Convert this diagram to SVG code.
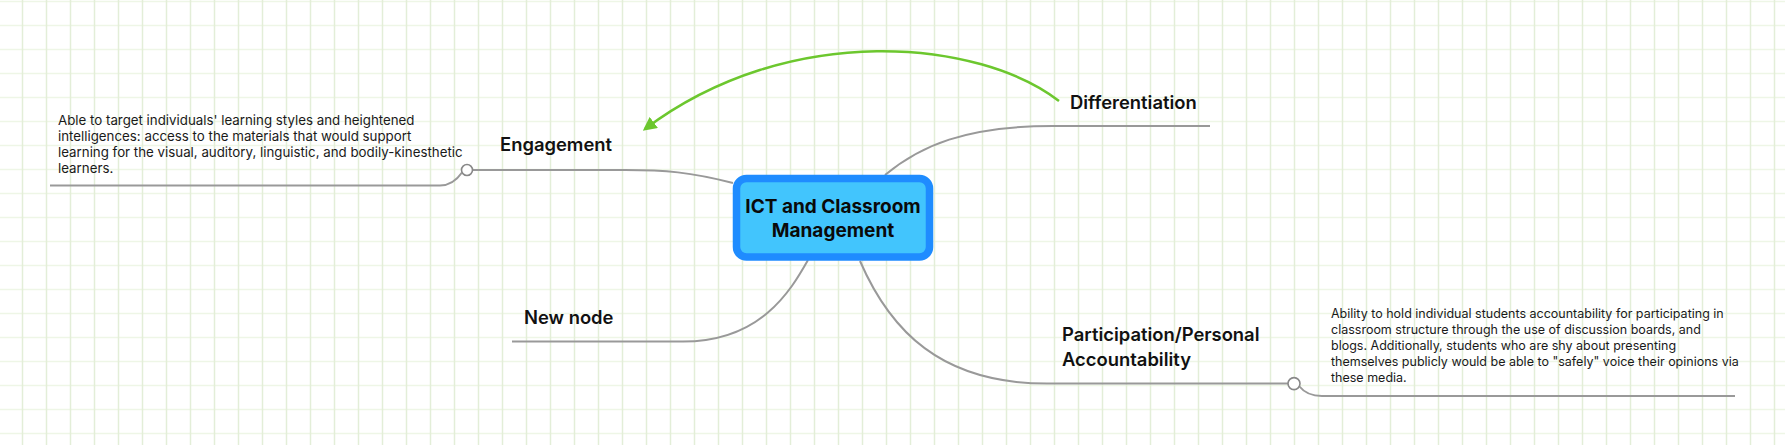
<svg xmlns="http://www.w3.org/2000/svg" width="1785" height="445" viewBox="0 0 1785 445">
<defs>
<pattern id="grid" patternUnits="userSpaceOnUse" width="24" height="24">
<line x1="0" y1="1.5" x2="24" y2="1.5" stroke="#eef6e6" stroke-width="1.5"/>
<line x1="22.5" y1="0" x2="22.5" y2="24" stroke="#e3eed8" stroke-width="1.5"/>
</pattern>
<marker id="arrow" viewBox="0 0 10 10" refX="8" refY="5" markerWidth="5.5" markerHeight="5.5" orient="auto-start-reverse" markerUnits="strokeWidth">
<path d="M0,0 L10,5 L0,10 z" fill="#6cc72e"/>
</marker>
<style>
.branch{fill:none;stroke:#999999;stroke-width:2}
.dot{fill:#ffffff;stroke:#888888;stroke-width:1.6}
.title{font-family:Inter,"Noto Sans",sans-serif;font-weight:600;font-size:18.4px;fill:#111111}
.note{font-family:Inter,"Noto Sans",sans-serif;font-size:13.3px;fill:#1a1a1a}
.note2{font-family:Inter,"Noto Sans",sans-serif;font-size:12.5px;fill:#1a1a1a}
.center{font-family:Inter,"Noto Sans",sans-serif;font-weight:700;font-size:19px;fill:#0a0a0a}
</style>
</defs>
<rect width="1785" height="445" fill="#ffffff"/>
<rect width="1785" height="445" fill="url(#grid)"/>
<g id="connectors">
<path class="branch" d="M733,183 C690,172 665,170 625,170 L472,170"/>
<path class="branch" d="M462,172.5 Q453,185.5 440,185.5 L50,185.5"/>
<path class="branch" d="M885,175 C920,146 965,126 1053,126 L1210,126"/>
<path class="branch" d="M808,260 C790,292 760,341.5 683,341.5 L512,341.5"/>
<path class="branch" d="M860,261 C890,330 940,383.6 1047,383.6 L1288,383.6"/>
<path class="branch" d="M1299.5,386.5 Q1307,396 1322,396 L1735,396"/>
<path d="M1059,101 C980,40 790,20 645,129" fill="none" stroke="#6cc72e" stroke-width="2.5" marker-end="url(#arrow)"/>
</g>
<g id="node-center">
<rect x="736.5" y="178.5" width="193" height="78.5" rx="10" fill="#42c5fd" stroke="#1f8cff" stroke-width="7.5"/>
<text class="center" x="833" y="213" text-anchor="middle">ICT and Classroom</text>
<text class="center" x="833" y="237" text-anchor="middle">Management</text>
</g>
<g id="node-engagement">
<text class="title" x="500" y="151">Engagement</text>
<circle class="dot" cx="467" cy="170" r="5.5"/>
</g>
<g id="note-engagement">
<text class="note" x="58" y="125">Able to target individuals' learning styles and heightened</text>
<text class="note" x="58" y="141">intelligences: access to the materials that would support</text>
<text class="note" x="58" y="157">learning for the visual, auditory, linguistic, and bodily-kinesthetic</text>
<text class="note" x="58" y="172.5">learners.</text>
</g>
<g id="node-differentiation">
<text class="title" x="1070" y="109">Differentiation</text>
</g>
<g id="node-new">
<text class="title" x="524" y="324">New node</text>
</g>
<g id="node-participation">
<text class="title" x="1062" y="341">Participation/Personal</text>
<text class="title" x="1062" y="366">Accountability</text>
<circle class="dot" cx="1294" cy="383.6" r="6"/>
</g>
<g id="note-participation">
<text class="note2" x="1331" y="318">Ability to hold individual students accountability for participating in</text>
<text class="note2" x="1331" y="334">classroom structure through the use of discussion boards, and</text>
<text class="note2" x="1331" y="350">blogs. Additionally, students who are shy about presenting</text>
<text class="note2" x="1331" y="366">themselves publicly would be able to "safely" voice their opinions via</text>
<text class="note2" x="1331" y="382">these media.</text>
</g>
</svg>
